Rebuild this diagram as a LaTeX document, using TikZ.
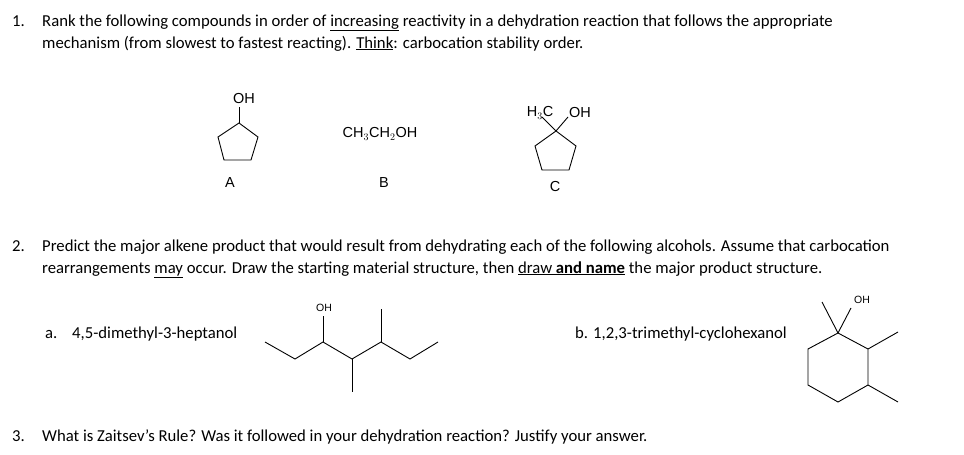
\documentclass[tikz,border=0pt]{standalone}
\usepackage{fontspec}
\setmainfont{Carlito}
\newfontfamily\arial{Liberation Sans}
\begin{document}
\begin{tikzpicture}[x=1pt,y=-1pt,
  txt/.style={anchor=base west,inner sep=0pt,font=\fontsize{16.7}{19}\selectfont},
  lab/.style={inner sep=0pt,font=\arial\fontsize{14.5}{16}\selectfont},
  sm/.style={inner sep=0pt,font=\arial\fontsize{10.5}{12}\selectfont},
  bond/.style={line width=0.9pt}]
\useasboundingbox (0,0) rectangle (964,455);
\fill[white] (0,0) rectangle (964,455);
% Q1
\node[txt] (n1) at (12,26) {1.};
\node[txt] (q1a) at (42,26) {Rank the following compounds in order of \underline{increasing} reactivity in a dehydration reaction that follows the appropriate};
\node[txt] (q1b) at (42,48) {mechanism (from slowest to fastest reacting). \underline{Think}: carbocation stability order.};
% A
\coordinate (a1) at (239,123); \coordinate (a2) at (258,137); \coordinate (a3) at (251,160);
\coordinate (a4) at (224,160); \coordinate (a5) at (218,137);
\node[lab] (aoh) at (244,99) {OH};
\draw[bond] (a1)--(a2)--(a3)--(a4)--(a5)--cycle;
\draw[bond] (a1)--(239,107);
\node[lab] (la) at (230,183) {A};
% B
\node[lab] (bb) at (380,134) {CH$_3$CH$_2$OH};
\node[lab] (lb) at (384,183) {B};
% C
\coordinate (c1) at (556,131); \coordinate (c2) at (576,146); \coordinate (c3) at (569,170);
\coordinate (c4) at (542,170); \coordinate (c5) at (535,146);
\draw[bond] (c1)--(c2)--(c3)--(c4)--(c5)--cycle;
\node[lab] (ch3) at (540,113) {H$_3$C};
\node[lab] (coh) at (580,113) {OH};
\draw[bond] (c1)--(542,117); \draw[bond] (c1)--(568,117);
\node[lab] (lc) at (555,187) {C};
% Q2
\node[txt] (n2) at (12,251) {2.};
\node[txt] (q2a) at (42,251) {Predict the major alkene product that would result from dehydrating each of the following alcohols. Assume that carbocation};
\node[txt] (q2b) at (42,273) {rearrangements \underline{may} occur. Draw the starting material structure, then \underline{draw \textbf{and name}} the major product structure.};
\node[txt] (pa) at (45,338) {a.};
\node[txt] (pan) at (72,338) {4,5-dimethyl-3-heptanol};
\node[txt] (pb) at (575,338) {b. 1,2,3-trimethyl-cyclohexanol};
% heptanol
\draw[bond] (265,342)--(295,359)--(323,342)--(352,359)--(381,342)--(410,359)--(438,342);
\draw[bond] (323,342)--(323,316); \node[sm] (hoh) at (324,308) {OH};
\draw[bond] (352,359)--(352,392);
\draw[bond] (381,342)--(381,309);
% cyclohexanol
\draw[bond] (838,333)--(868,349)--(868,385)--(838,402)--(808,385)--(808,349)--cycle;
\draw[bond] (838,333)--(822,302);
\draw[bond] (838,333)--(851,308); \node[sm] (xoh) at (862,300) {OH};
\draw[bond] (868,349)--(898,332);
\draw[bond] (868,385)--(898,402);
% Q3
\node[txt] (n3) at (12,441) {3.};
\node[txt] (q3) at (42,441) {What is Zaitsev's Rule? Was it followed in your dehydration reaction? Justify your answer.};
\end{tikzpicture}
\end{document}
